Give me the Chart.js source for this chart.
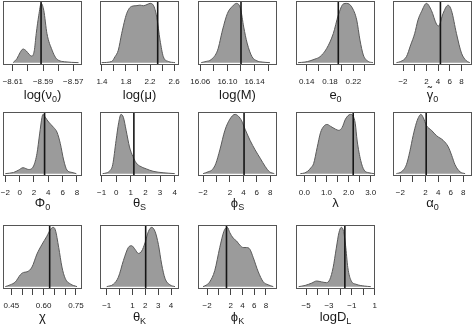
<!DOCTYPE html>
<html><head><meta charset="utf-8">
<script src="https://cdn.jsdelivr.net/npm/chart.js@4"></script>
<style>
html,body{margin:0;padding:0;background:#fff;}
#wrap{position:relative;width:474px;height:327px;overflow:hidden;background:#fff;}
#wrap canvas{position:absolute;}
</style></head><body><div id="wrap"></div>
<script>
// ---- Data: density curves (normalised height) ----
const nu0X = [-8.6098,-8.6072,-8.6052,-8.6032,-8.6012,-8.5992,-8.5974,-8.5958,-8.5945,-8.5928,-8.5912,-8.5895,-8.5874,-8.5840,-8.5818,-8.5798,-8.5758,-8.5665];
const nu0Y = [0,0.07,0.17,0.23,0.2,0.14,0.11,0.2,0.49,0.8,1.0,0.88,0.49,0.21,0.09,0.04,0.015,0];
const muX = [1.395,1.562,1.617,1.672,1.728,1.812,1.895,1.967,2.033,2.089,2.15,2.2,2.255,2.312,2.367,2.422,2.505,2.617];
const muY = [0,0.02,0.1,0.21,0.49,0.83,0.95,0.96,0.97,0.96,0.98,1.0,0.97,0.77,0.38,0.1,0.02,0];
const mX = [16.0614,16.0687,16.0759,16.0856,16.0928,16.100,16.1073,16.1135,16.1193,16.124,16.129,16.1362,16.1434,16.151,16.1626];
const mY = [0,0.02,0.05,0.21,0.55,0.83,0.95,1.0,0.91,0.6,0.33,0.1,0.03,0.01,0];
const e0X = [0.1251,0.1371,0.1457,0.1542,0.1628,0.1743,0.1856,0.1942,0.2028,0.2086,0.2172,0.2258,0.2314,0.2371,0.2457,0.2537];
const e0Y = [0,0.01,0.03,0.06,0.1,0.24,0.49,0.8,0.99,1.0,0.94,0.72,0.38,0.13,0.02,0];
const gamX = [-3.13,-2.39,-1.42,-0.68,0.0,0.57,1.16,2.01,2.87,3.73,4.12,4.86,5.72,6.30,7.16,8.02,8.87,9.44];
const gamY = [0,0.02,0.1,0.3,0.49,0.72,0.86,1.0,0.88,0.65,0.62,0.83,0.97,0.88,0.49,0.16,0.03,0];
const phi0X = [-2.0,-0.84,-0.14,0.47,1.26,1.95,2.42,2.79,3.12,3.26,3.58,4.05,4.74,5.21,5.67,6.14,6.60,7.30,7.91];
const phi0Y = [0,0.02,0.06,0.1,0.07,0.13,0.34,0.67,0.95,1.0,0.95,0.87,0.78,0.7,0.51,0.23,0.06,0.02,0];
const thSX = [-0.93,-0.70,-0.47,-0.24,-0.01,0.17,0.33,0.49,0.68,0.91,1.14,1.37,1.60,2.06,2.52,3.21,4.01];
const thSY = [0,0.01,0.04,0.15,0.56,0.86,1.0,0.95,0.73,0.45,0.29,0.18,0.13,0.08,0.04,0.015,0];
const phSX = [-2.0,-1.25,-0.6,-0.1,0.5,1.25,2.0,2.75,3.25,3.75,4.25,5.0,5.75,6.5,7.25,7.9,8.6];
const phSY = [0,0.03,0.07,0.17,0.4,0.73,0.92,1.0,0.97,0.89,0.75,0.56,0.4,0.26,0.12,0.03,0];
const lamX = [-0.18,0.0,0.15,0.30,0.42,0.58,0.73,0.88,1.03,1.18,1.41,1.56,1.71,1.86,2.09,2.21,2.30,2.39,2.55,2.70,2.92,3.15];
const lamY = [0,0.01,0.04,0.1,0.17,0.44,0.69,0.8,0.83,0.8,0.75,0.73,0.78,0.92,1.0,0.97,0.85,0.55,0.22,0.06,0.015,0];
const al0X = [-2.65,-1.85,-1.05,-0.51,0.02,0.55,0.98,1.25,1.62,2.15,2.95,3.75,4.82,5.62,6.15,6.69,7.49,8.29];
const al0Y = [0,0.03,0.15,0.37,0.64,0.86,0.97,1.0,0.95,0.81,0.73,0.64,0.56,0.45,0.31,0.15,0.03,0];
const chiX = [0.422,0.445,0.469,0.492,0.507,0.523,0.546,0.569,0.592,0.615,0.631,0.643,0.654,0.670,0.685,0.700,0.724,0.755];
const chiY = [0,0.03,0.08,0.2,0.24,0.25,0.33,0.55,0.71,0.85,0.96,1.0,0.96,0.66,0.33,0.14,0.045,0];
const thKX = [-1.0,-0.48,-0.09,0.30,0.68,0.94,1.20,1.46,1.72,1.98,2.24,2.50,2.76,3.02,3.27,3.53,3.92,4.31];
const thKY = [0,0.04,0.16,0.44,0.66,0.69,0.63,0.56,0.6,0.74,0.93,1.0,0.93,0.71,0.38,0.14,0.03,0];
const phKX = [-2.68,-2.05,-1.54,-0.69,0.16,0.85,1.19,1.44,1.87,2.43,3.01,3.57,4.13,4.71,5.27,5.84,6.69,7.54,8.39,9.24];
const phKY = [0,0.03,0.08,0.27,0.66,0.93,0.99,1.0,0.91,0.82,0.77,0.7,0.66,0.66,0.63,0.49,0.25,0.08,0.03,0];
const dLX = [-5.66,-5.09,-4.51,-4.08,-3.65,-3.22,-2.93,-2.64,-2.36,-2.13,-1.92,-1.72,-1.55,-1.35,-1.06,-0.63,0.09,0.66];
const dLY = [0,0.02,0.06,0.095,0.08,0.067,0.12,0.32,0.65,0.91,1.0,0.93,0.7,0.32,0.1,0.04,0.01,0];

// reference (true) values: vertical lines
const trueValues = [-8.5913, 2.328, 16.12, 0.1942, 4.41, 3.48, 1.21, 4.1, 2.21, 2.1, 0.628, 2.03, 1.3, -1.61];

// axis titles ("_" = subscript character)
const axisTitles = ['log(ν_0)','log(μ)','log(M)','e_0','γ̃_0','Φ_0','θ_S','ϕ_S','λ','α_0','χ','θ_K','ϕ_K','logD_L'];

// x-axis ranges
const xMin = [-8.6165, 1.367, 16.0567, 0.1216, -3.715, -2.32, -1.11, -2.75, -0.377, -3.18, 0.4115, -1.52, -3.53, -5.89];
const xMax = [-8.5642, 2.683, 16.173, 0.2572, 9.82, 8.70, 4.30, 9.0, 3.195, 9.39, 0.778, 4.62, 9.87, 1.03];

// tick values and tick labels
const tickValues = [
  [-8.61,-8.60,-8.59,-8.58,-8.57],
  [1.4,1.6,1.8,2.0,2.2,2.4,2.6],
  [16.06,16.08,16.10,16.12,16.14,16.16],
  [0.14,0.16,0.18,0.20,0.22,0.24],
  [-2,0,2,4,6,8],
  [-2,0,2,4,6,8],
  [-1,0,1,2,3,4],
  [-2,0,2,4,6,8],
  [0,0.5,1,1.5,2,2.5,3],
  [-2,0,2,4,6,8],
  [0.45,0.50,0.55,0.60,0.65,0.70,0.75],
  [-1,0,1,2,3,4],
  [-2,0,2,4,6,8],
  [-5,-4,-3,-2,-1,0,1]
];
const tickLabels = [
  ['−8.61','','−8.59','','−8.57'],
  ['1.4','','1.8','','2.2','','2.6'],
  ['16.06','','16.10','','16.14',''],
  ['0.14','','0.18','','0.22',''],
  ['−2','','2','4','6','8'],
  ['−2','0','2','4','6','8'],
  ['−1','0','1','2','3','4'],
  ['−2','','2','4','6','8'],
  ['0.0','','1.0','','2.0','','3.0'],
  ['−2','','2','4','6','8'],
  ['0.45','','','0.60','','','0.75'],
  ['−1','','1','2','3','4'],
  ['−2','','2','4','6','8'],
  ['−5','','−3','','−1','','1']
];

const densX = [nu0X, muX, mX, e0X, gamX, phi0X, thSX, phSX, lamX, al0X, chiX, thKX, phKX, dLX];
const densY = [nu0Y, muY, mY, e0Y, gamY, phi0Y, thSY, phSY, lamY, al0Y, chiY, thKY, phKY, dLY];

// ---- Layout ----
const FONT = "'Liberation Sans', Arial, Helvetica, sans-serif";
const colLeft = [3, 100, 198, 296, 393];
const rowTop = [1, 112, 225];
const titleGap = [34, 31, 32];
const boxW = 79, boxH = 64, M = 14, CH = boxH + 1 + 42;

const framePlugin = {
  id: 'frame',
  afterDraw(chart) {
    const {ctx, chartArea: a} = chart;
    ctx.save();
    ctx.strokeStyle = '#555';
    ctx.lineWidth = 1;
    ctx.strokeRect(Math.round(a.left) + 0.5, Math.round(a.top) + 0.5,
                   Math.round(a.right - a.left) - 1, Math.round(a.bottom - a.top) - 1);
    ctx.restore();
  }
};

// split a title into runs: normal text, subscript chars, and chars carrying a combining tilde
function parseTitle(s) {
  const parts = [];
  let buf = '';
  const chars = Array.from(s);
  const flush = () => { if (buf) parts.push({t: buf, sub: false}); buf = ''; };
  for (let i = 0; i < chars.length; i++) {
    if (chars[i] === '_' && i + 1 < chars.length) {
      flush();
      parts.push({t: chars[i + 1], sub: true});
      i++;
    } else if (chars[i + 1] === '\u0303') {
      flush();
      parts.push({t: chars[i], sub: false, tilde: true});
      i++;
    } else buf += chars[i];
  }
  flush();
  return parts;
}

const titlePlugin = {
  id: 'rTitle',
  afterDraw(chart, args, opts) {
    const {ctx, chartArea: a} = chart;
    const parts = parseTitle(opts.text);
    ctx.save();
    let w = 0;
    parts.forEach(p => {
      ctx.font = (p.sub ? '9px ' : '13px ') + FONT;
      p.w = ctx.measureText(p.t).width;
      w += p.w;
    });
    let x = (a.left + a.right) / 2 - w / 2;
    const y = a.bottom + opts.gap;
    ctx.fillStyle = '#1a1a1a';
    ctx.textAlign = 'left';
    ctx.textBaseline = 'alphabetic';
    parts.forEach(p => {
      ctx.font = (p.sub ? '9px ' : '13px ') + FONT;
      ctx.fillText(p.t, x, p.sub ? y + 3 : y);
      if (p.tilde) {
        ctx.textAlign = 'center';
        ctx.fillText('\u02DC', x + p.w / 2, y - 3);
        ctx.textAlign = 'left';
      }
      x += p.w;
    });
    ctx.restore();
  }
};

const wrap = document.getElementById('wrap');
for (let i = 0; i < densX.length; i++) {
  const r = Math.floor(i / 5), c = i % 5;
  const cv = document.createElement('canvas');
  cv.width = boxW + 2 * M; cv.height = CH;
  cv.style.width = (boxW + 2 * M) + 'px'; cv.style.height = CH + 'px';
  cv.style.left = (colLeft[c] - M) + 'px';
  cv.style.top = (rowTop[r] - 1) + 'px';
  wrap.appendChild(cv);

  const pts = densX[i].map((x, k) => ({x: x, y: densY[i][k]}));
  const ticks = tickValues[i], labels = tickLabels[i];
  new Chart(cv, {
    type: 'line',
    data: {
      datasets: [
        {
          data: [{x: trueValues[i], y: -0.2}, {x: trueValues[i], y: 1.2}],
          borderColor: '#151515', borderWidth: 1.6, pointRadius: 0, fill: false, order: 0
        },
        {
          data: pts, borderColor: '#5a5a5a', borderWidth: 1, backgroundColor: '#9b9b9b',
          fill: 'origin', pointRadius: 0, cubicInterpolationMode: 'monotone', order: 1
        }
      ]
    },
    options: {
      responsive: false, animation: false, devicePixelRatio: 1, events: [],
      layout: {padding: {left: M, right: M, top: 1, bottom: 0}},
      plugins: {legend: {display: false}, tooltip: {enabled: false},
                rTitle: {text: axisTitles[i], gap: titleGap[r]}},
      scales: {
        x: {
          type: 'linear', min: xMin[i], max: xMax[i],
          afterBuildTicks: s => { s.ticks = ticks.map(v => ({value: v})); },
          afterFit: s => { s.height = CH - 1 - boxH; s.paddingLeft = 0; s.paddingRight = 0; },
          ticks: {autoSkip: false, maxRotation: 0, minRotation: 0, padding: 6,
                  color: '#222', font: {size: 8, family: FONT},
                  callback: (v, idx) => labels[idx]},
          grid: {drawOnChartArea: false, drawTicks: true, tickLength: 6, color: '#444', lineWidth: 1},
          border: {display: false}
        },
        y: {display: false, min: -0.04, max: 1.04}
      }
    },
    plugins: [framePlugin, titlePlugin]
  });
}
</script></body></html>
